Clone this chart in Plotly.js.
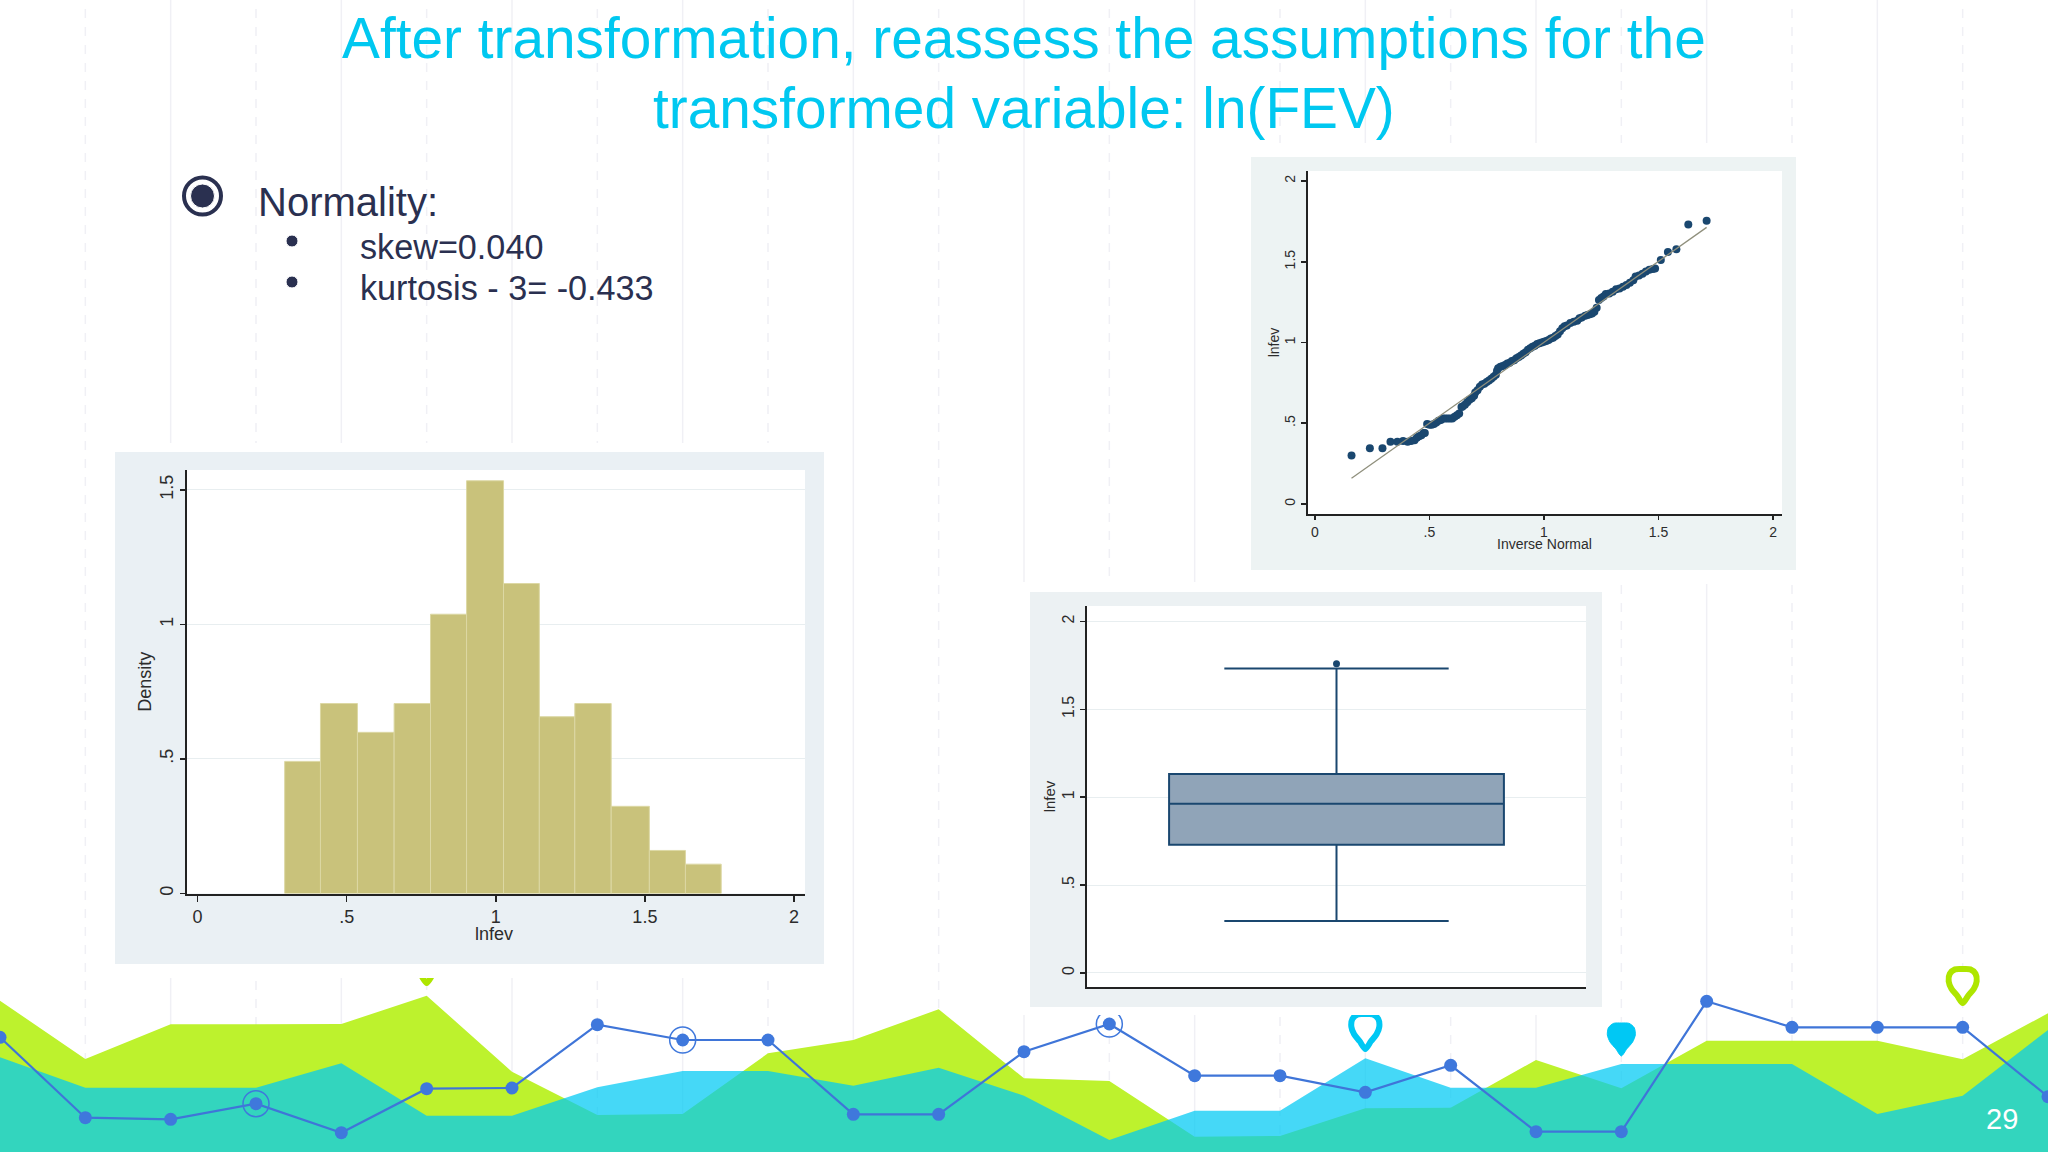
<!DOCTYPE html>
<html><head><meta charset="utf-8">
<script src="https://cdn.plot.ly/plotly-3.0.1.min.js"></script>
<style>html,body{margin:0;padding:0;background:#fff}#c{width:2048px;height:1152px}</style>
</head><body><div id="c"></div>
<script>
// ---- Histogram
var histEdges = [0.292,0.412,0.536,0.659,0.781,0.902,1.026,1.146,1.265,1.387,1.515,1.636,1.756];
var histDensity = [0.491,0.706,0.599,0.706,1.038,1.534,1.152,0.657,0.706,0.324,0.160,0.109];
// ---- Q-Q plot
var qqInverseNormal = [0.16,0.24,0.295,0.33,0.36,0.385,0.405,0.42,0.435,0.445,0.455,0.465,0.475,0.48,0.49,0.50,0.51,0.52,0.53,0.54,0.55,0.56,0.57,0.58,0.59,0.60,0.61,0.62,0.63,0.64,0.645,0.655,0.665,0.675,0.685,0.695,0.70,0.71,0.72,0.73,0.74,0.75,0.76,0.77,0.78,0.79,0.795,0.80,0.81,0.82,0.83,0.84,0.85,0.86,0.87,0.88,0.89,0.90,0.91,0.92,0.93,0.94,0.95,0.96,0.97,0.98,0.99,1.00,1.01,1.02,1.03,1.04,1.05,1.06,1.07,1.08,1.09,1.10,1.115,1.13,1.145,1.155,1.165,1.18,1.19,1.20,1.21,1.22,1.23,1.24,1.25,1.26,1.27,1.285,1.30,1.315,1.33,1.345,1.36,1.375,1.39,1.40,1.415,1.43,1.445,1.46,1.475,1.485,1.51,1.541,1.578,1.63,1.71];
var qqLnfev = [0.30,0.345,0.345,0.385,0.385,0.39,0.385,0.39,0.395,0.41,0.42,0.425,0.44,0.44,0.495,0.49,0.49,0.495,0.505,0.515,0.52,0.53,0.53,0.53,0.53,0.53,0.54,0.55,0.56,0.60,0.603,0.615,0.63,0.645,0.654,0.67,0.69,0.705,0.726,0.74,0.745,0.755,0.765,0.775,0.788,0.80,0.825,0.84,0.85,0.855,0.86,0.87,0.875,0.885,0.89,0.902,0.91,0.92,0.93,0.94,0.955,0.965,0.974,0.98,0.99,0.995,1.00,1.005,1.01,1.015,1.025,1.03,1.04,1.05,1.07,1.088,1.10,1.105,1.12,1.129,1.135,1.15,1.155,1.165,1.17,1.175,1.18,1.19,1.215,1.263,1.275,1.285,1.30,1.304,1.315,1.33,1.335,1.345,1.356,1.37,1.385,1.408,1.415,1.425,1.44,1.45,1.455,1.459,1.511,1.56,1.577,1.73,1.754];
var qqFitX = [0.16,1.71];
var qqFitY = [0.159,1.713];
// ---- Box plot
var boxQ1 = [0.73], boxMedian = [0.963], boxQ3 = [1.132];
var boxLow = [0.296], boxHigh = [1.733], boxOutliers = [[1.759]];
// ---- Tick labels
var halfTicks = [0,0.5,1,1.5,2];
var halfLabels = ["0",".5","1","1.5","2"];
var densityTicks = [0,0.5,1,1.5];
var densityLabels = ["0",".5","1","1.5"];
// ---- Slide background (heights above the slide's bottom edge, one per column)
var columnIndex = [0,1,2,3,4,5,6,7,8,9,10,11,12,13,14,15,16,17,18,19,20,21,22,23,24];
var limeHeights = [151.3,93,127.7,128,128,156.3,80.3,37,38,98.7,112,142.7,73.7,71,15.3,16,43.7,44.3,92,63.7,111.3,111.3,111.3,92.7,138.7];
var cyanHeights = [94.7,64.3,64.3,64.3,88.7,36.3,36.3,64.7,81,81,66.3,84.3,56.3,12,41.3,41.3,93.7,64.3,64.3,88,88,88,38,56.3,122];
var lineHeights = [114.7,34.3,32.7,48.3,19.3,63.3,64,127.3,112,112,37.7,37.7,100.3,128,76.3,76.3,59.7,86.7,20.3,20.3,150.7,124.7,124.7,124.7,55.3];
var ringColumns = [3,8,13];
var pinOutlineX = [0,0.4,0.8,1,0.92,0.55,0,-0.55,-0.92,-1,-0.8,-0.4,0];
var pinOutlineY = [0,0.22,0.42,0.64,0.86,0.99,1,0.99,0.86,0.64,0.42,0.22,0];
var titleLines = ["After transformation, reassess the assumptions for the","transformed variable: ln(FEV)"];

var W=2048,H=1152,COL=W/24;
var FONT='"Liberation Sans",Arial,sans-serif';
function colX(i){return i*COL;}
function up(y){return H-y;}
function domX(a,b){return [a/W,b/W];}
function domY(top,bot){return [(H-bot)/H,(H-top)/H];}
function rect(x0,y0,x1,y1,color){return {x:[x0,x1,x1,x0,x0],y:[up(y0),up(y0),up(y1),up(y1),up(y0)],mode:'lines',line:{width:0},fill:'toself',fillcolor:color,hoverinfo:'skip',xaxis:'x',yaxis:'y'};}
function pin(col,tipY,halfW,h,stroke,fill,lw){
  return {x:pinOutlineX.map(function(v){return colX(col)+v*halfW;}),
          y:pinOutlineY.map(function(v){return up(tipY)+v*h;}),
          mode:'lines',fill:'toself',fillcolor:fill,line:{color:stroke,width:lw,shape:'spline',smoothing:0.7},hoverinfo:'skip',xaxis:'x',yaxis:'y'};
}
var colXs=columnIndex.map(colX);
var traces=[
 {x:colXs,y:limeHeights,mode:'lines',line:{width:0},fill:'tozeroy',fillcolor:'#bdf22d',hoverinfo:'skip',xaxis:'x',yaxis:'y'},
 {x:colXs,y:cyanHeights,mode:'lines',line:{width:0},fill:'tozeroy',fillcolor:'rgba(0,201,244,0.73)',hoverinfo:'skip',xaxis:'x',yaxis:'y'},
 pin(5,983,14,35,'#aee600','#ffffff',6),
 pin(16,1049,14,35,'#00c8f4','#ffffff',6),
 pin(19,1056,14,33,'#00c8f4','#00c8f4',1),
 pin(23,1003,14,34,'#aee600','#ffffff',6),
 {x:colXs,y:lineHeights,mode:'lines+markers',line:{color:'#3f75d8',width:2.2},marker:{color:'#3f78dc',size:13},hoverinfo:'skip',xaxis:'x',yaxis:'y'},
 {x:ringColumns.map(colX),y:ringColumns.map(function(i){return lineHeights[i];}),mode:'markers',marker:{symbol:'circle-open',size:26,color:'#3f78dc',opacity:1,line:{width:1.5,color:'#3f78dc'}},hoverinfo:'skip',xaxis:'x',yaxis:'y'},
 // white frames and tinted panels behind the three graphs
 rect(101,443,838,978,'#ffffff'), rect(1016,582,1616,1015,'#ffffff'), rect(1237,143,1810,584,'#ffffff'),
 rect(115,452,824,964,'#eaf0f4'), rect(1030,592,1602,1007,'#ecf1f3'), rect(1251,157,1796,570,'#edf3f3'),
 // bullets
 {x:[202.5],y:[up(196)],mode:'markers',marker:{symbol:'circle-open',size:37,color:'#2a3050',opacity:1,line:{width:4,color:'#2a3050'}},hoverinfo:'skip',xaxis:'x',yaxis:'y'},
 {x:[202.5,292,292],y:[up(196),up(241),up(282)],mode:'markers',marker:{size:[24,12,12],color:'#2a3050',opacity:1},hoverinfo:'skip',xaxis:'x',yaxis:'y'},
 // histogram
 {type:'bar',x:histDensity.map(function(_,i){return (histEdges[i]+histEdges[i+1])/2;}),
  width:histDensity.map(function(_,i){return histEdges[i+1]-histEdges[i];}),y:histDensity,
  marker:{color:'#c9c27b',line:{color:'#dcd8a4',width:1}},xaxis:'x2',yaxis:'y2',hoverinfo:'skip'},
 // q-q
 {x:qqInverseNormal,y:qqLnfev,mode:'markers',marker:{color:'#1a476f',size:8,opacity:1},xaxis:'x3',yaxis:'y3',hoverinfo:'skip'},
 {x:qqFitX,y:qqFitY,mode:'lines',line:{color:'#8f8f7c',width:1.3},xaxis:'x3',yaxis:'y3',hoverinfo:'skip'},
 // box
 {type:'box',x:[0.5],q1:boxQ1,median:boxMedian,q3:boxQ3,lowerfence:boxLow,upperfence:boxHigh,y:boxOutliers,
  boxpoints:'outliers',pointpos:0,width:0.671,whiskerwidth:0.67,fillcolor:'#90a4b8',line:{color:'#1a476f',width:2},
  marker:{color:'#1a476f',size:7,opacity:1},xaxis:'x4',yaxis:'y4',hoverinfo:'skip'}
];
traces.forEach(function(t){t.showlegend=false;});

var shapes=[];
for(var k=1;k<24;k++){shapes.push({type:'line',xref:'x',yref:'y',layer:'below',x0:colX(k),x1:colX(k),y0:0,y1:H,line:{color:'#f0f0f5',width:1.5,dash:k%2?'dash':'solid'}});}

function axisText(size){return {family:FONT,size:size,color:'#2c2c2c'};}
function axisX(domain,range,anchor,size,len){return {domain:domain,range:range,anchor:anchor,tickmode:'array',tickvals:halfTicks,ticktext:halfLabels,
  ticks:'outside',ticklen:len,tickwidth:1.5,tickcolor:'#222',showline:true,linecolor:'#222',linewidth:2,showgrid:false,zeroline:false,fixedrange:true,tickangle:0,
  tickfont:axisText(size)};}
function axisY(domain,range,anchor,vals,labels,titleText,size,titleSize,grid,standoff,len){return {domain:domain,range:range,anchor:anchor,tickmode:'array',tickvals:vals,ticktext:labels,
  ticks:'outside',ticklen:len,tickwidth:1.5,tickcolor:'#222',showline:true,linecolor:'#222',linewidth:2,showgrid:grid,gridcolor:'#e8eef0',gridwidth:1,zeroline:false,fixedrange:true,tickangle:-90,
  tickfont:axisText(size),title:{text:titleText,font:axisText(titleSize),standoff:standoff}};}
function xTitle(text,cx,cy,size){return {xref:'paper',yref:'paper',x:cx/W,xanchor:'center',y:1-cy/H,yanchor:'middle',text:text,showarrow:false,font:axisText(size)};}

var layout={width:W,height:H,margin:{l:0,r:0,t:0,b:0},paper_bgcolor:'#ffffff',plot_bgcolor:'#ffffff',showlegend:false,shapes:shapes,
 xaxis:{domain:[0,1],range:[0,W],visible:false,fixedrange:true},
 yaxis:{domain:[0,1],range:[0,H],visible:false,fixedrange:true},
 xaxis2:axisX(domX(187,805),[-0.0356,2.037],'y2',18,6),
 yaxis2:axisY(domY(470,893.5),[0,1.574],'x2',densityTicks,densityLabels,'Density',18,18,true,0,5),
 xaxis3:axisX(domX(1308,1782),[-0.03,2.039],'y3',14,4),
 yaxis3:axisY(domY(171,514),[-0.062,2.062],'x3',halfTicks,halfLabels,'lnfev',14,14,false,0,5),
 xaxis4:{domain:domX(1087,1586),range:[0,1],anchor:'y4',showticklabels:false,ticks:'',showline:true,linecolor:'#222',linewidth:2,showgrid:false,zeroline:false,fixedrange:true},
 yaxis4:axisY(domY(606,987),[-0.08,2.088],'x4',halfTicks,halfLabels,'lnfev',16,15,true,0,5),
 annotations:[
  {xref:'paper',yref:'paper',x:0.5,y:1-39/H,yanchor:'middle',text:titleLines[0],showarrow:false,font:{family:FONT,size:56.8,color:'#00c8f0'}},
  {xref:'paper',yref:'paper',x:0.5,y:1-108/H,yanchor:'middle',text:titleLines[1],showarrow:false,font:{family:FONT,size:56.8,color:'#00c8f0'}},
  {xref:'paper',yref:'paper',x:256/W,xanchor:'left',y:1-202/H,yanchor:'middle',text:'Normality:',showarrow:false,font:{family:FONT,size:40,color:'#2a3050'}},
  {xref:'paper',yref:'paper',x:358/W,xanchor:'left',y:1-247/H,yanchor:'middle',text:'skew=0.040',showarrow:false,font:{family:FONT,size:34.2,color:'#2a3050'}},
  {xref:'paper',yref:'paper',x:358/W,xanchor:'left',y:1-288/H,yanchor:'middle',text:'kurtosis - 3= -0.433',showarrow:false,font:{family:FONT,size:34.2,color:'#2a3050'}},
  {xref:'paper',yref:'paper',x:2002/W,xanchor:'center',y:1-1119/H,yanchor:'middle',text:'29',showarrow:false,font:{family:FONT,size:29,color:'#ffffff'}},
  xTitle('lnfev',494,934,18),
  xTitle('Inverse Normal',1544,544,14)
 ]};
Plotly.newPlot('c',traces,layout,{displayModeBar:false,staticPlot:true});
</script></body></html>
